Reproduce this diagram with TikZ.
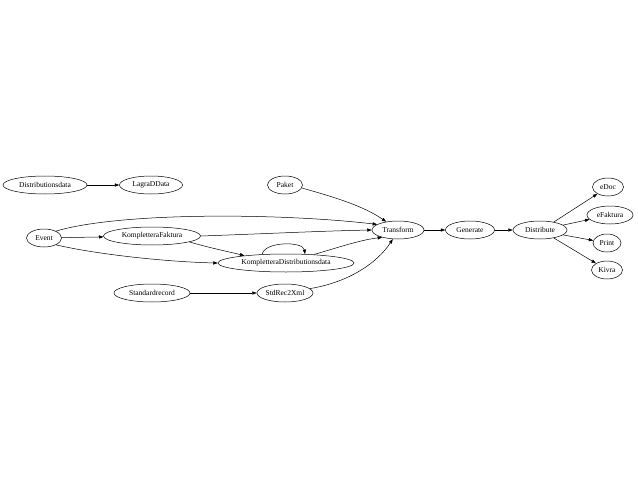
\documentclass[tikz,border=0pt]{standalone}
\usepackage{fontspec}
\setmainfont{Liberation Serif}
\usetikzlibrary{shapes.geometric,arrows.meta}
\begin{document}
\begin{tikzpicture}[x=1pt,y=-1pt,
  gv/.style={draw,ellipse,inner sep=0pt,minimum height=18pt,font=\fontsize{7.5}{8}\selectfont,line width=0.5pt},
  ed/.style={draw,line width=0.5pt,-{Triangle[length=4.5pt,width=3.2pt]}}]
\useasboundingbox (0,0) rectangle (638,479);
\node[gv,minimum width=84pt] (dd) at (45,185) {Distributionsdata};
\node[gv,minimum width=63pt] (ld) at (151,185) {LagraDData};
\node[gv,minimum width=35pt] (pk) at (285,185) {Paket};
\node[gv,minimum width=35pt] (ev) at (44,238) {Event};
\node[gv,minimum width=97pt] (kf) at (152,236) {KompletteraFaktura};
\node[gv,minimum width=136pt] (kd) at (286,263) {KompletteraDistributionsdata};
\node[gv,minimum width=76pt] (sr) at (152,293) {Standardrecord};
\node[gv,minimum width=56pt] (sx) at (285,293) {StdRec2Xml};
\node[gv,minimum width=52pt] (tr) at (398,230) {Transform};
\node[gv,minimum width=49pt] (ge) at (470,230) {Generate};
\node[gv,minimum width=54pt] (di) at (540,230) {Distribute};
\node[gv,minimum width=31pt] (ed) at (608,187) {eDoc};
\node[gv,minimum width=46pt] (ef) at (610,215) {eFaktura};
\node[gv,minimum width=28pt] (pr) at (607,243) {Print};
\node[gv,minimum width=31pt] (kv) at (607,270) {Kivra};
% edges
\draw[ed] (dd) -- (ld);
\draw[ed] (ev) -- (kf);
\draw[ed] (sr) -- (sx);
\draw[ed] (tr) -- (ge);
\draw[ed] (ge) -- (di);
\draw[ed] (pk.-10) .. controls (330,196) and (362,205) .. (tr.145);
\draw[ed] (ev.30) .. controls (120,212) and (280,213) .. (tr.165);
\draw[ed] (ev.-30) .. controls (100,255) and (170,262) .. (kd.180);
\draw[ed] (kf.0) .. controls (260,234) and (320,231) .. (tr.180);
\draw[ed] (kf.-9) .. controls (210,248) and (230,252) .. (kd.170);
\draw[ed] (kd.160) .. controls +(2,-13) and +(-2,-13) .. (kd.25);
\draw[ed] (kd.17) .. controls (340,247) and (360,240) .. (tr.-155);
\draw[ed] (sx.10) .. controls (350,282) and (378,262) .. (tr.-120);
\draw[ed] (di.30) -- (ed);
\draw[ed] (di.12) -- (ef);
\draw[ed] (di.-12) -- (pr);
\draw[ed] (di.-30) -- (kv);
\end{tikzpicture}
\end{document}
